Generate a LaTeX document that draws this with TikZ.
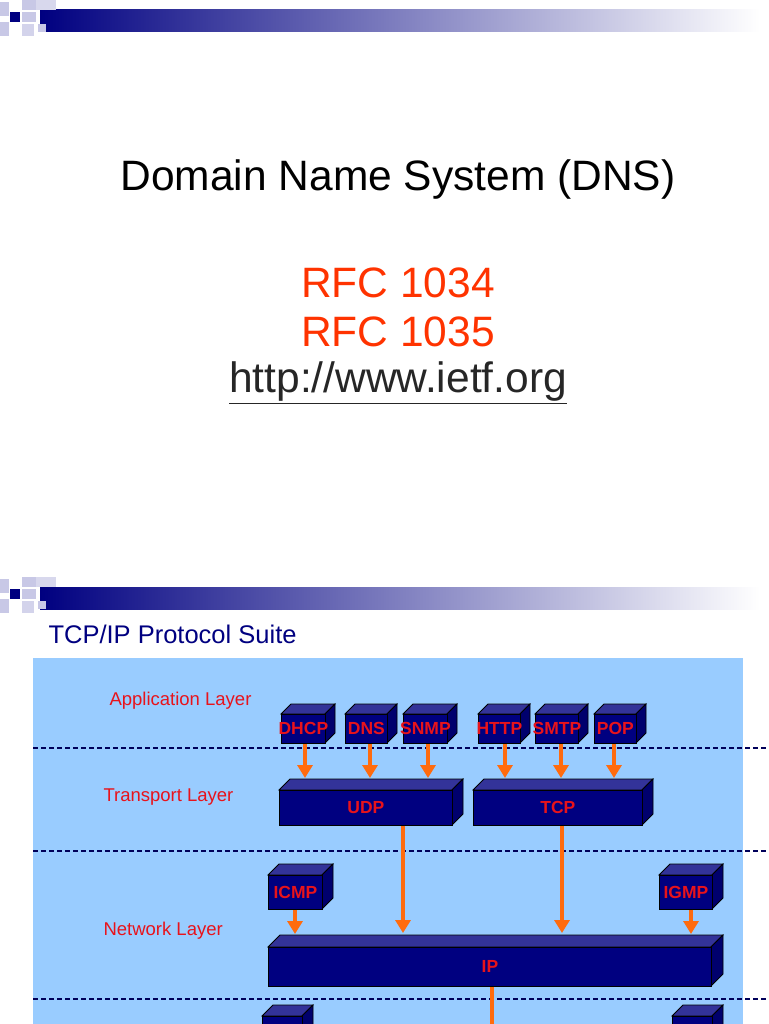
\documentclass[tikz,border=0pt]{standalone}
\usepackage{fontspec}
\setmainfont{Liberation Sans}
\usetikzlibrary{arrows.meta}
\definecolor{navy}{HTML}{000080}
\definecolor{topc}{HTML}{333399}
\definecolor{layred}{HTML}{E8131B}
\definecolor{rfc}{HTML}{FF3300}
\definecolor{arrorange}{HTML}{FF6B0E}
\definecolor{bgblue}{HTML}{99CCFF}
\definecolor{lav}{HTML}{C8C8E6}
\newcommand{\hdr}[1]{%
  \shade[left color=navy,right color=white] (40,#1+4) rectangle (760,#1+26);
  \fill[lav] (0,#1-4) rectangle (9,#1+10);
  \fill[lav] (22,#1-6) rectangle (36,#1+4);
  \fill[lav!70] (36,#1-6) rectangle (56,#1+4);
  \fill[navy] (10,#1+6) rectangle (20,#1+16);
  \fill[lav] (22,#1+6) rectangle (36,#1+16);
  \fill[lav] (0,#1+16) rectangle (9,#1+30);
  \fill[lav!80] (22,#1+18) rectangle (34,#1+30);
  \fill[lav] (38,#1+18) rectangle (46,#1+26);
}
\newcommand{\cub}[7]{%
  \fill[topc,draw=black,line width=0.8pt] (#2,#3) -- (#2+#6,#3-#6) -- (#4+#6,#3-#6) -- (#4,#3) -- cycle;
  \fill[navy!85!black,draw=black,line width=0.8pt] (#4,#3) -- (#4+#6,#3-#6) -- (#4+#6,#5-#6) -- (#4,#5) -- cycle;
  \node[fill=navy,draw=black,line width=0.8pt,inner sep=0pt,minimum width=#4-#2,minimum height=#5-#3,anchor=north west] (#1) at (#2,#3) {};
  \node[btxt] at (#1.center) {#7};
}
\begin{document}
\begin{tikzpicture}[x=1pt,y=-1pt,
  lbl/.style={text=layred,font=\fontsize{18.5}{19}\selectfont,anchor=west},
  btxt/.style={text=layred,font=\bfseries\fontsize{17.5}{18}\selectfont},
  arr/.style={draw=arrorange,line width=3.8pt,-{Triangle[length=13pt,width=15pt]}},
  dashln/.style={draw=navy!70!black,line width=1.3pt,dash pattern=on 5pt off 3pt}]
\useasboundingbox (0,0) rectangle (768,1024);
\fill[white] (0,0) rectangle (768,1024);
\hdr{6}
\hdr{583}
% slide 1
\node[font=\fontsize{42.5}{44}\selectfont] (title) at (398,180) {Domain Name System (DNS)};
\node[text=rfc,font=\fontsize{42.5}{44}\selectfont] (r1) at (398,283) {RFC 1034};
\node[text=rfc,font=\fontsize{42.5}{44}\selectfont] (r2) at (398,332) {RFC 1035};
\node[text=black!85,font=\fontsize{42.5}{44}\selectfont] (url) at (398,383) {\underline{http://www.ietf.org}};
% slide 2
\node[text=navy,font=\fontsize{25.5}{26}\selectfont,anchor=west] (st) at (45,634) {TCP/IP Protocol Suite};
\fill[bgblue] (33,658) rectangle (743,1024);
\draw[dashln] (33,748) -- (768,748);
\draw[dashln] (33,851) -- (768,851);
\draw[dashln] (33,999) -- (768,999);
\node[lbl] (la) at (106,701) {Application Layer};
\node[lbl] (lt) at (100,797) {Transport Layer};
\node[lbl] (ln) at (100,931) {Network Layer};
\cub{dhcp}{281}{714}{325}{743}{10}{DHCP}
\cub{dns}{345}{714}{387}{743}{10}{DNS}
\cub{snmp}{403}{714}{447}{743}{10}{SNMP}
\cub{http}{478}{714}{520}{743}{10}{HTTP}
\cub{smtp}{535}{714}{578}{743}{10}{SMTP}
\cub{pop}{594}{714}{636}{743}{10}{POP}
\cub{udp}{279}{790}{452}{825}{11}{UDP}
\cub{tcp}{473}{790}{642}{825}{11}{TCP}
\cub{icmp}{268}{875}{322}{909}{11}{ICMP}
\cub{igmp}{659}{875}{712}{909}{11}{IGMP}
\cub{ip}{268}{947}{711}{986}{12}{IP}
\cub{bl}{262}{1016}{302}{1040}{11}{}
\cub{br}{672}{1016}{712}{1040}{11}{}
\coordinate (a1) at (305,778); \coordinate (a2) at (370,778); \coordinate (a3) at (428,778);
\coordinate (a4) at (505,778); \coordinate (a5) at (561,778); \coordinate (a6) at (614,778);
\draw[arr] (dhcp.south -| a1) -- (a1);
\draw[arr] (dns.south -| a2) -- (a2);
\draw[arr] (snmp.south -| a3) -- (a3);
\draw[arr] (http.south -| a4) -- (a4);
\draw[arr] (smtp.south -| a5) -- (a5);
\draw[arr] (pop.south -| a6) -- (a6);
\coordinate (b1) at (403,933); \coordinate (b2) at (562,933);
\coordinate (b3) at (295,934); \coordinate (b4) at (691,934);
\draw[arr] (udp.south -| b1) -- (b1);
\draw[arr] (tcp.south -| b2) -- (b2);
\draw[arr] (icmp.south -| b3) -- (b3);
\draw[arr] (igmp.south -| b4) -- (b4);
\coordinate (c1) at (492,1024);
\draw[draw=arrorange,line width=3.8pt] (ip.south -| c1) -- (c1);
\end{tikzpicture}
\end{document}
